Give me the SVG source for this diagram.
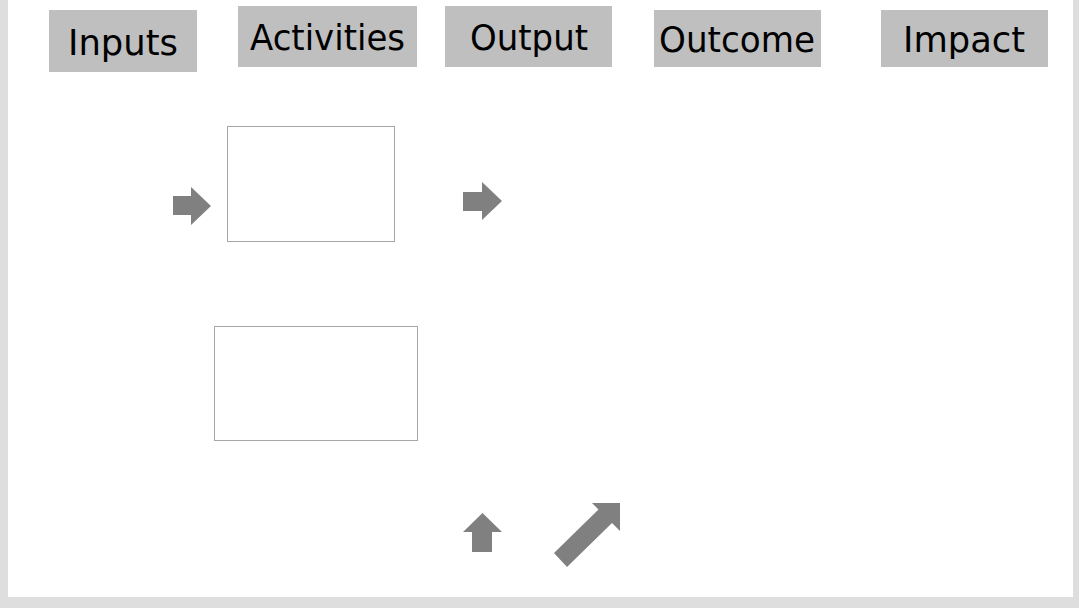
<svg xmlns="http://www.w3.org/2000/svg" width="1079" height="608" viewBox="0 0 1079 608">
<style>
.hdr{fill:#bfbfbf;}
.lbl{font-family:"DejaVu Sans","Noto Sans",sans-serif;font-size:35px;fill:#000;}
.box{fill:#fff;stroke:#a6a6a6;stroke-width:1;}
.arr{fill:#808080;}
</style>
<rect x="0" y="0" width="1079" height="608" fill="#dedede"/>
<rect x="8" y="0" width="1065" height="597" fill="#ffffff"/>
<g id="inputs"><rect class="hdr" x="49" y="10" width="148" height="62"/><text class="lbl" x="68" y="55" textLength="110" lengthAdjust="spacingAndGlyphs">Inputs</text></g>
<g id="activities"><rect class="hdr" x="238" y="6" width="179" height="61"/><text class="lbl" x="250" y="50" textLength="155" lengthAdjust="spacingAndGlyphs">Activities</text></g>
<g id="output"><rect class="hdr" x="445" y="6" width="167" height="61"/><text class="lbl" x="470" y="50" textLength="118" lengthAdjust="spacingAndGlyphs">Output</text></g>
<g id="outcome"><rect class="hdr" x="654" y="10" width="167" height="57"/><text class="lbl" x="659" y="52" textLength="156" lengthAdjust="spacingAndGlyphs">Outcome</text></g>
<g id="impact"><rect class="hdr" x="881" y="10" width="167" height="57"/><text class="lbl" x="903" y="52" textLength="122" lengthAdjust="spacingAndGlyphs">Impact</text></g>
<g id="box1"><rect class="box" x="227.5" y="126.5" width="167" height="115"/></g>
<g id="box2"><rect class="box" x="214.5" y="326.5" width="203" height="114"/></g>
<g id="connectors">
<polygon class="arr" points="173,196 191,196 191,187 211,206 191,225 191,215 173,215"/>
<polygon class="arr" points="463,192 482,192 482,182 502,201 482,220 482,211 463,211"/>
<polygon class="arr" points="472,552 472,532 463,532 482.5,513 502,532 492,532 492,552"/>
<polygon class="arr" points="554,553 598.5,509.5 592,503 620,503 620,531 612,523 567,567"/>
</g>
</svg>
